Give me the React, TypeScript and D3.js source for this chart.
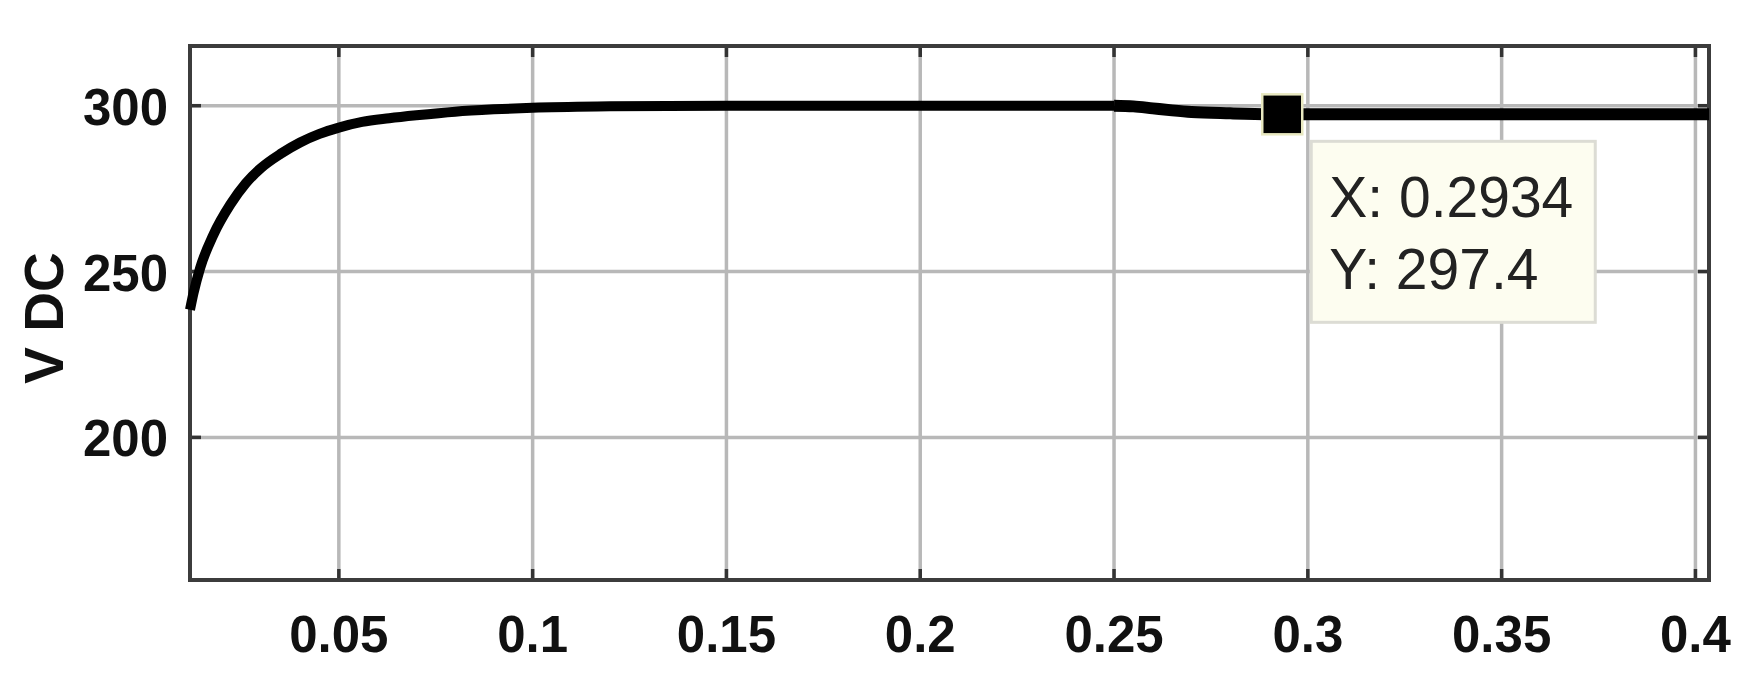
import { useEffect, useRef } from 'react';
import * as d3 from 'd3';

// time (s) and DC link voltage
const timeS = [0.0116, 0.0125, 0.0142, 0.0176, 0.022, 0.026, 0.03, 0.035, 0.04, 0.045, 0.05, 0.056, 0.063, 0.07, 0.08, 0.09, 0.1, 0.12, 0.15, 0.2, 0.25, 0.255, 0.26, 0.265, 0.27, 0.28, 0.2934, 0.32, 0.35, 0.38, 0.4035];
const vdc = [238.5, 243.5, 251, 261, 270.2, 276.6, 281.3, 285.5, 288.9, 291.5, 293.4, 295.1, 296.2, 297.1, 298.2, 298.9, 299.4, 299.8, 300, 300, 300, 299.8, 299.2, 298.6, 298.1, 297.7, 297.4, 297.4, 297.4, 297.4, 297.4];

const xTicks = [0.05, 0.1, 0.15, 0.2, 0.25, 0.3, 0.35, 0.4];
const yTicks = [200, 250, 300];
const xDomain = [0.0116, 0.4035];
const yDomain = [157, 318];

const tipX = 0.2934;
const tipY = 297.4;

export default function App() {
  const svgRef = useRef<SVGSVGElement>(null);
  const width = 1751;
  const height = 687;

  useEffect(() => {
    if (!svgRef.current) return;
    const svg = d3.select(svgRef.current);
    svg.selectAll('*').remove();

    const margin = { top: 46, right: 42, bottom: 107, left: 190 };
    const w = width - margin.left - margin.right;
    const h = height - margin.top - margin.bottom;

    const x = d3.scaleLinear().domain(xDomain).range([0, w]);
    const y = d3.scaleLinear().domain(yDomain).range([h, 0]);

    const g = svg.append('g').attr('transform', `translate(${margin.left},${margin.top})`);
    const font = '"Liberation Sans", Arial, sans-serif';

    // grid
    g.selectAll('.vgrid')
      .data(xTicks)
      .enter()
      .append('line')
      .attr('x1', d => x(d))
      .attr('x2', d => x(d))
      .attr('y1', 0)
      .attr('y2', h)
      .attr('stroke', '#b8b8b8')
      .attr('stroke-width', 3.5);

    g.selectAll('.hgrid')
      .data(yTicks)
      .enter()
      .append('line')
      .attr('x1', 0)
      .attr('x2', w)
      .attr('y1', d => y(d))
      .attr('y2', d => y(d))
      .attr('stroke', '#b8b8b8')
      .attr('stroke-width', 3.5);

    // small inside ticks
    const tickLen = 11;
    xTicks.forEach(t => {
      g.append('line').attr('x1', x(t)).attr('x2', x(t)).attr('y1', h).attr('y2', h - tickLen).attr('stroke', '#333').attr('stroke-width', 3.5);
      g.append('line').attr('x1', x(t)).attr('x2', x(t)).attr('y1', 0).attr('y2', tickLen).attr('stroke', '#333').attr('stroke-width', 3.5);
    });
    yTicks.forEach(t => {
      g.append('line').attr('x1', 0).attr('x2', tickLen).attr('y1', y(t)).attr('y2', y(t)).attr('stroke', '#333').attr('stroke-width', 3.5);
      g.append('line').attr('x1', w).attr('x2', w - tickLen).attr('y1', y(t)).attr('y2', y(t)).attr('stroke', '#333').attr('stroke-width', 3.5);
    });

    // frame
    g.append('rect')
      .attr('width', w)
      .attr('height', h)
      .attr('fill', 'none')
      .attr('stroke', '#3c3c3c')
      .attr('stroke-width', 4);

    // signal
    const pts = timeS.map((t, i) => [t, vdc[i]] as [number, number]);
    const line = d3.line<[number, number]>()
      .x(d => x(d[0]))
      .y(d => y(d[1]))
      .curve(d3.curveMonotoneX);

    g.append('path')
      .attr('d', line(pts.filter(p => p[0] <= 0.25)))
      .attr('fill', 'none')
      .attr('stroke', '#000')
      .attr('stroke-width', 10);

    g.append('path')
      .attr('d', line(pts.filter(p => p[0] >= 0.25)))
      .attr('fill', 'none')
      .attr('stroke', '#000')
      .attr('stroke-width', 12);

    // tick labels
    g.selectAll('.xl')
      .data(xTicks)
      .enter()
      .append('text')
      .attr('x', d => x(d))
      .attr('y', h + 72)
      .attr('text-anchor', 'middle')
      .attr('font-family', font)
      .attr('font-weight', 700)
      .attr('font-size', 51)
      .attr('fill', '#111')
      .text(d => String(d));

    g.selectAll('.yl')
      .data(yTicks)
      .enter()
      .append('text')
      .attr('x', -22)
      .attr('y', d => y(d) + 19)
      .attr('text-anchor', 'end')
      .attr('font-family', font)
      .attr('font-weight', 700)
      .attr('font-size', 51)
      .attr('fill', '#111')
      .text(d => String(d));

    // y label
    svg.append('text')
      .attr('transform', `translate(63,318) rotate(-90)`)
      .attr('text-anchor', 'middle')
      .attr('font-family', font)
      .attr('font-weight', 700)
      .attr('font-size', 55)
      .attr('fill', '#111')
      .text('V DC');

    // data tip
    const mx = x(tipX);
    const my = y(tipY);
    const box = g.append('g').attr('transform', `translate(${mx + 29},${my + 27})`);
    box.append('rect')
      .attr('width', 284)
      .attr('height', 181)
      .attr('fill', '#fdfdf0')
      .attr('stroke', '#dcdcd4')
      .attr('stroke-width', 3);
    box.append('text')
      .attr('x', 18)
      .attr('y', 76)
      .attr('font-family', font)
      .attr('font-size', 57)
      .attr('fill', '#222')
      .text(`X: ${tipX}`);
    box.append('text')
      .attr('x', 18)
      .attr('y', 148)
      .attr('font-family', font)
      .attr('font-size', 57)
      .attr('fill', '#222')
      .text(`Y: ${tipY}`);

    g.append('rect')
      .attr('x', mx - 20)
      .attr('y', my - 20)
      .attr('width', 40)
      .attr('height', 40)
      .attr('fill', '#000')
      .attr('stroke', '#e8e8c0')
      .attr('stroke-width', 2.5);
  }, []);

  return (
    <svg
      ref={svgRef}
      width={width}
      height={height}
      style={{ position: 'absolute', left: 0, top: 0, background: 'white' }}
    />
  );
}
